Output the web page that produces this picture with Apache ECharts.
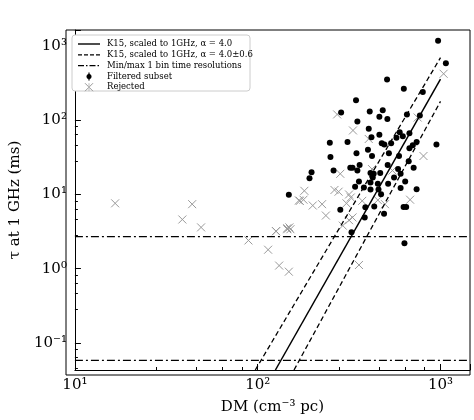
<!DOCTYPE html><html><head><meta charset="utf-8"><script src="https://cdn.jsdelivr.net/npm/echarts@6/dist/echarts.min.js"></script>
<style>body{margin:0}#c{width:474px;height:420px}</style></head><body><div id="c"></div><script>
const filtered=[[970,1180],[1070,590],[510,356],[630,267],[800,241],[345,187],[286,127],[410,131],[483,137],[463,112],[512,104],[655,120],[351,96],[771,116],[405,77],[463,64],[598,69],[676,67],[622,61],[574,58],[248,50],[310,51],[477,49],[493,47],[537,49],[419,59],[740,51],[705,46],[676,42],[950,47],[401,40],[522,36],[347,36],[250,32],[422,33],[593,33],[670,28],[321,23],[330,23],[361,25],[713,23],[260,21],[351,21],[414,19.5],[431,19],[468,19.5],[514,25],[586,22],[605,19],[197,20],[192,16.5],[358,15],[414,14.5],[454,14],[517,14],[557,17],[641,15],[426,17],[381,12.4],[414,11.7],[458,11.7],[341,12.7],[605,12.2],[740,11.8],[473,10.1],[148,9.9],[434,6.9],[388,6.7],[283,6.2],[628,6.8],[649,6.8],[491,5.5],[385,4.9],[326,3.1],[635,2.2]];
const rejected=[[1040,424],[272,120],[332,73],[405,56],[750,109],[807,33],[283,19],[263,11.5],[277,10.9],[316,10],[323,9.1],[180,11.2],[170,8.2],[178,8.5],[200,7.1],[225,7.4],[236,5.2],[306,7.6],[373,8.2],[454,8.4],[497,7.4],[682,8.5],[316,4.5],[330,4.9],[292,3.8],[422,22],[546,21],[358,1.12],[126,3.2],[145,3.5],[149,3.6],[89,2.4],[114,1.8],[131,1.1],[148,0.91],[16.6,7.6],[38.7,4.6],[43.8,7.4],[49,3.6],[126,3.2],[145,3.4],[151,3.4],[168,8.3]];
const k15=[[125,0.043],[1000,360]];
const k15Hi=[[97,0.043],[1000,700]];
const k15Lo=[[158,0.043],[1000,180]];
const minRes=0.058, maxRes=2.7;
const xRange=[10,1450], yRange=[0.043,1650];
const sup={'1':'¹','2':'²','3':'³','0':'⁰','-':'⁻'};
const fmt=v=>{const e=Math.round(Math.log10(v));return '10'+String(e).split('').map(c=>sup[c]).join('');};
const F='DejaVu Serif';
const ch=echarts.init(document.getElementById('c'));
const hl=(y)=>({type:'line',data:[[xRange[0],y],[xRange[1],y]],symbol:'none',lineStyle:{color:'#000',width:1.3,type:[8,3,2,3]},z:3});
ch.setOption({animation:false,
grid:{left:66,right:4,top:30,bottom:45},
xAxis:{type:'log',min:xRange[0],max:xRange[1],axisLine:{onZero:false,lineStyle:{color:'#000'}},axisTick:{inside:true,length:6},minorTick:{show:true,length:3},splitLine:{show:false},
 axisLabel:{formatter:fmt,fontFamily:F,fontSize:15,color:'#000',margin:8,showMaxLabel:false},name:'DM (cm⁻³ pc)',nameLocation:'middle',nameGap:30,nameTextStyle:{fontFamily:F,fontSize:15,color:'#000'}},
yAxis:{type:'log',min:yRange[0],max:yRange[1],axisLine:{lineStyle:{color:'#000'}},axisTick:{inside:true,length:6},minorTick:{show:true,length:3},splitLine:{show:false},
 axisLabel:{formatter:fmt,fontFamily:F,fontSize:15,color:'#000',showMinLabel:false,showMaxLabel:false},name:'τ at 1 GHz (ms)',nameLocation:'middle',nameGap:40,nameTextStyle:{fontFamily:F,fontSize:15,color:'#000'}},
series:[
 {type:'scatter',data:rejected,symbol:'path://M0,0L10,10M10,0L0,10',symbolSize:8,itemStyle:{color:'none',borderColor:'#999',borderWidth:1,opacity:1},z:2},
 {type:'scatter',data:filtered,symbolSize:6,itemStyle:{color:'#000',opacity:1},z:4},
 {type:'line',data:k15,symbol:'none',lineStyle:{color:'#000',width:1.5},z:3},
 {type:'line',data:k15Hi,symbol:'none',lineStyle:{color:'#000',width:1.3,type:[5,3]},z:3},
 {type:'line',data:k15Lo,symbol:'none',lineStyle:{color:'#000',width:1.3,type:[5,3]},z:3},
 hl(maxRes),hl(minRes)
]});
const g=[{type:'rect',shape:{x:66,y:30,width:404,height:345},style:{fill:'none',stroke:'#000',lineWidth:1},silent:true},
 {type:'rect',shape:{x:72,y:35,width:178,height:56,r:3},style:{fill:'#fff',stroke:'#ccc',lineWidth:1},z:10}];
const items=[['solid','K15, scaled to 1GHz, α = 4.0'],['dash','K15, scaled to 1GHz, α = 4.0±0.6'],['dot','Min/max 1 bin time resolutions'],['pt','Filtered subset'],['x','Rejected']];
items.forEach((it,i)=>{const y=44+i*10.8;
 if(it[0]==='solid')g.push({type:'line',shape:{x1:78,y1:y,x2:100,y2:y},style:{stroke:'#000',lineWidth:1.4},z:11});
 if(it[0]==='dash')g.push({type:'line',shape:{x1:78,y1:y,x2:100,y2:y},style:{stroke:'#000',lineWidth:1.2,lineDash:[4,2]},z:11});
 if(it[0]==='dot')g.push({type:'line',shape:{x1:78,y1:y,x2:100,y2:y},style:{stroke:'#000',lineWidth:1.2,lineDash:[6,2,1.5,2]},z:11});
 if(it[0]==='pt'){g.push({type:'circle',shape:{cx:89,cy:y,r:2.5},style:{fill:'#000'},z:11});g.push({type:'line',shape:{x1:89,y1:y-4,x2:89,y2:y+4},style:{stroke:'#000',lineWidth:1.2},z:11});}
 if(it[0]==='x'){g.push({type:'line',shape:{x1:85,y1:y-4,x2:93,y2:y+4},style:{stroke:'#999'},z:11});g.push({type:'line',shape:{x1:93,y1:y-4,x2:85,y2:y+4},style:{stroke:'#999'},z:11});g.push({type:'line',shape:{x1:89,y1:y-4,x2:89,y2:y+4},style:{stroke:'#bbb'},z:11});}
 g.push({type:'text',x:107,y:y,style:{text:it[1],font:'8.5px "DejaVu Serif"',fill:'#000',verticalAlign:'middle'},z:11});
});
ch.setOption({graphic:g});
</script></body></html>
